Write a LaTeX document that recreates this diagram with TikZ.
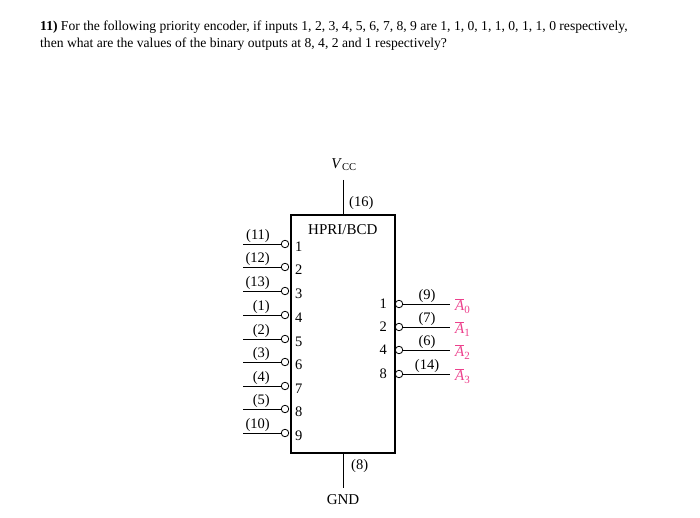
\documentclass[tikz,border=0pt]{standalone}
\usepackage{fontspec}
\setmainfont{Liberation Serif}
\usetikzlibrary{positioning}
\definecolor{outpink}{RGB}{236,64,140}

\begin{document}
\begin{tikzpicture}[x=1pt,y=-1pt,
        bubble/.style={circle,draw,inner sep=0pt,minimum size=7.5pt,line width=0.8pt},
        wire/.style={line width=0.8pt},
        pinlbl/.style={font=\fontsize{14.5}{16}\selectfont,inner sep=1pt}]
    \useasboundingbox (0,0) rectangle (700,518);

    \node[anchor=north west,align=left,inner sep=0pt,font=\fontsize{13.6}{17}\selectfont] (q) at (40,21)
        {\textbf{11)} For the following priority encoder, if inputs 1, 2, 3, 4, 5, 6, 7, 8, 9 are 1, 1, 0, 1, 1, 0, 1, 1, 0 respectively,\\
         then what are the values of the binary outputs at 8, 4, 2 and 1 respectively?};

    \node[draw,line width=1.6pt,minimum width=104pt,minimum height=238pt,anchor=north west,inner sep=0pt] (enc) at (290,214) {};
    \node[font=\fontsize{15}{16}\selectfont,below=7pt of enc.north] (title) {HPRI/BCD};

    % supply and ground
    \node[font=\fontsize{15}{16}\selectfont] (vcc) at (344,165) {\textit{V}\textsubscript{CC}};
    \coordinate (vcctop) at (343,180);
    \draw[wire] (vcctop) -- (enc.north -| vcctop);
    \node[pinlbl,anchor=south west] (p16) at (348,211) {(16)};
    \coordinate (gndbot) at (343,488);
    \draw[wire] (enc.south -| gndbot) -- (gndbot);
    \node[pinlbl,anchor=west] (p8) at (350,466) {(8)};
    \node[font=\fontsize{15}{16}\selectfont] (gnd) at (343,500) {GND};

    % inputs
    \foreach \n/\p/\y in {1/11/244,2/12/267,3/13/291,4/1/315,5/2/339,6/3/362,7/4/386,8/5/409,9/10/433} {
        \node[bubble] (ib\n) at (285,\y) {};
        \coordinate (iw\n) at (243,\y);
        \draw[wire] (iw\n) -- (ib\n.west);
        \node[pinlbl,anchor=south east] (ip\n) at (271,\y-0.5) {(\p)};
        \node[pinlbl,anchor=west] (in\n) at (294,\y+3) {\n};
    }

    % outputs
    \foreach \n/\p/\k/\y in {1/9/0/304,2/7/1/327,4/6/2/350,8/14/3/374} {
        \node[bubble] (ob\n) at (399,\y) {};
        \coordinate (ow\n) at (450,\y);
        \draw[wire] (ob\n.east) -- (ow\n);
        \node[pinlbl,anchor=south] (op\n) at (427,\y-0.5) {(\p)};
        \node[pinlbl,anchor=east] (on\n) at (388,\y) {\n};
        \node[anchor=west,inner sep=1pt,text=outpink,font=\fontsize{15}{16}\selectfont] (oa\n) at (454,\y+2)
            {$\overline{\mbox{\itshape A}}$\raisebox{-2.5pt}{\fontsize{11}{12}\selectfont\k}};
    }
\end{tikzpicture}
\end{document}
